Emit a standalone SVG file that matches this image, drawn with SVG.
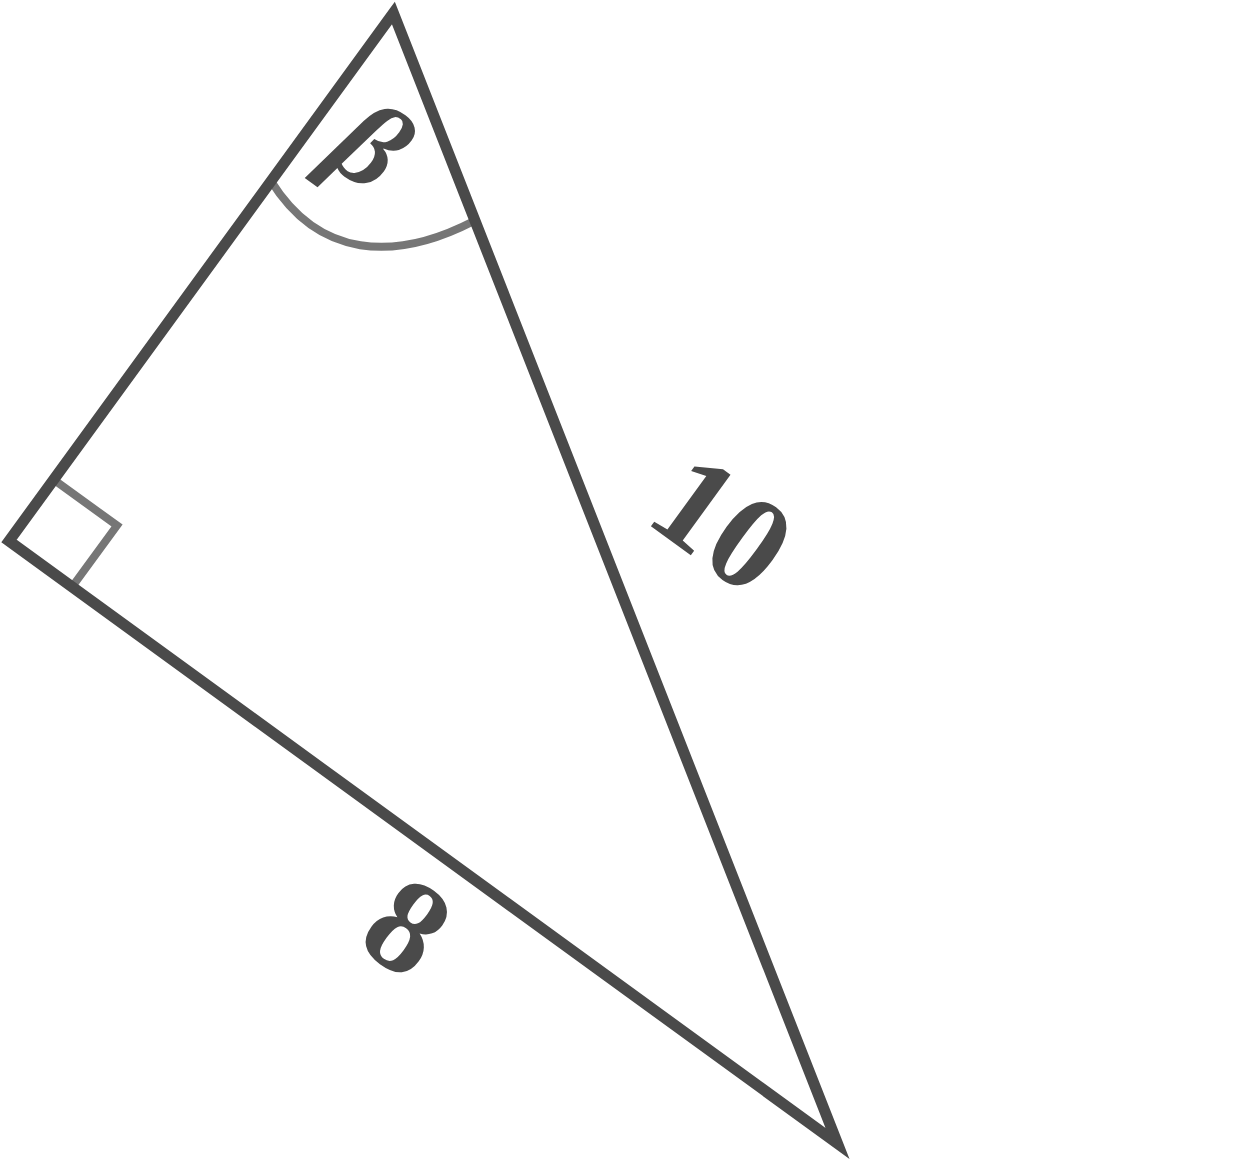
<svg xmlns="http://www.w3.org/2000/svg" width="1246" height="1162" viewBox="0 0 1246 1162">
<style>
.edge{fill:none;stroke:#4a4a4a;stroke-width:11;stroke-linejoin:miter;stroke-miterlimit:10}
.mark{fill:none;stroke:#767676;stroke-width:8}
.lbl{font-family:"Liberation Serif",serif;font-weight:bold;fill:#4a4a4a;text-anchor:middle}
</style>
<rect width="1246" height="1162" fill="#ffffff"/>
<g id="marks">
<path class="mark" d="M 271 181 C 318.7 257.5, 393.9 262.4, 474 221"/>
<path class="mark" d="M 53.5 479.5 L 117 525.5 L 72 587"/>
</g>
<g id="triangle">
<polygon class="edge" points="393.4,13 9,541 837.5,1143.5"/>
</g>
<g id="label-beta" transform="translate(364,155) rotate(36)">
<text class="lbl" x="0" y="28" font-size="120" font-style="italic">β</text>
</g>
<g id="label-10" transform="translate(723,523) rotate(36)">
<text class="lbl" x="0" y="45" font-size="134">10</text>
</g>
<g id="label-8" transform="translate(408,926) rotate(36)">
<text class="lbl" x="0" y="46" font-size="135">8</text>
</g>
</svg>
